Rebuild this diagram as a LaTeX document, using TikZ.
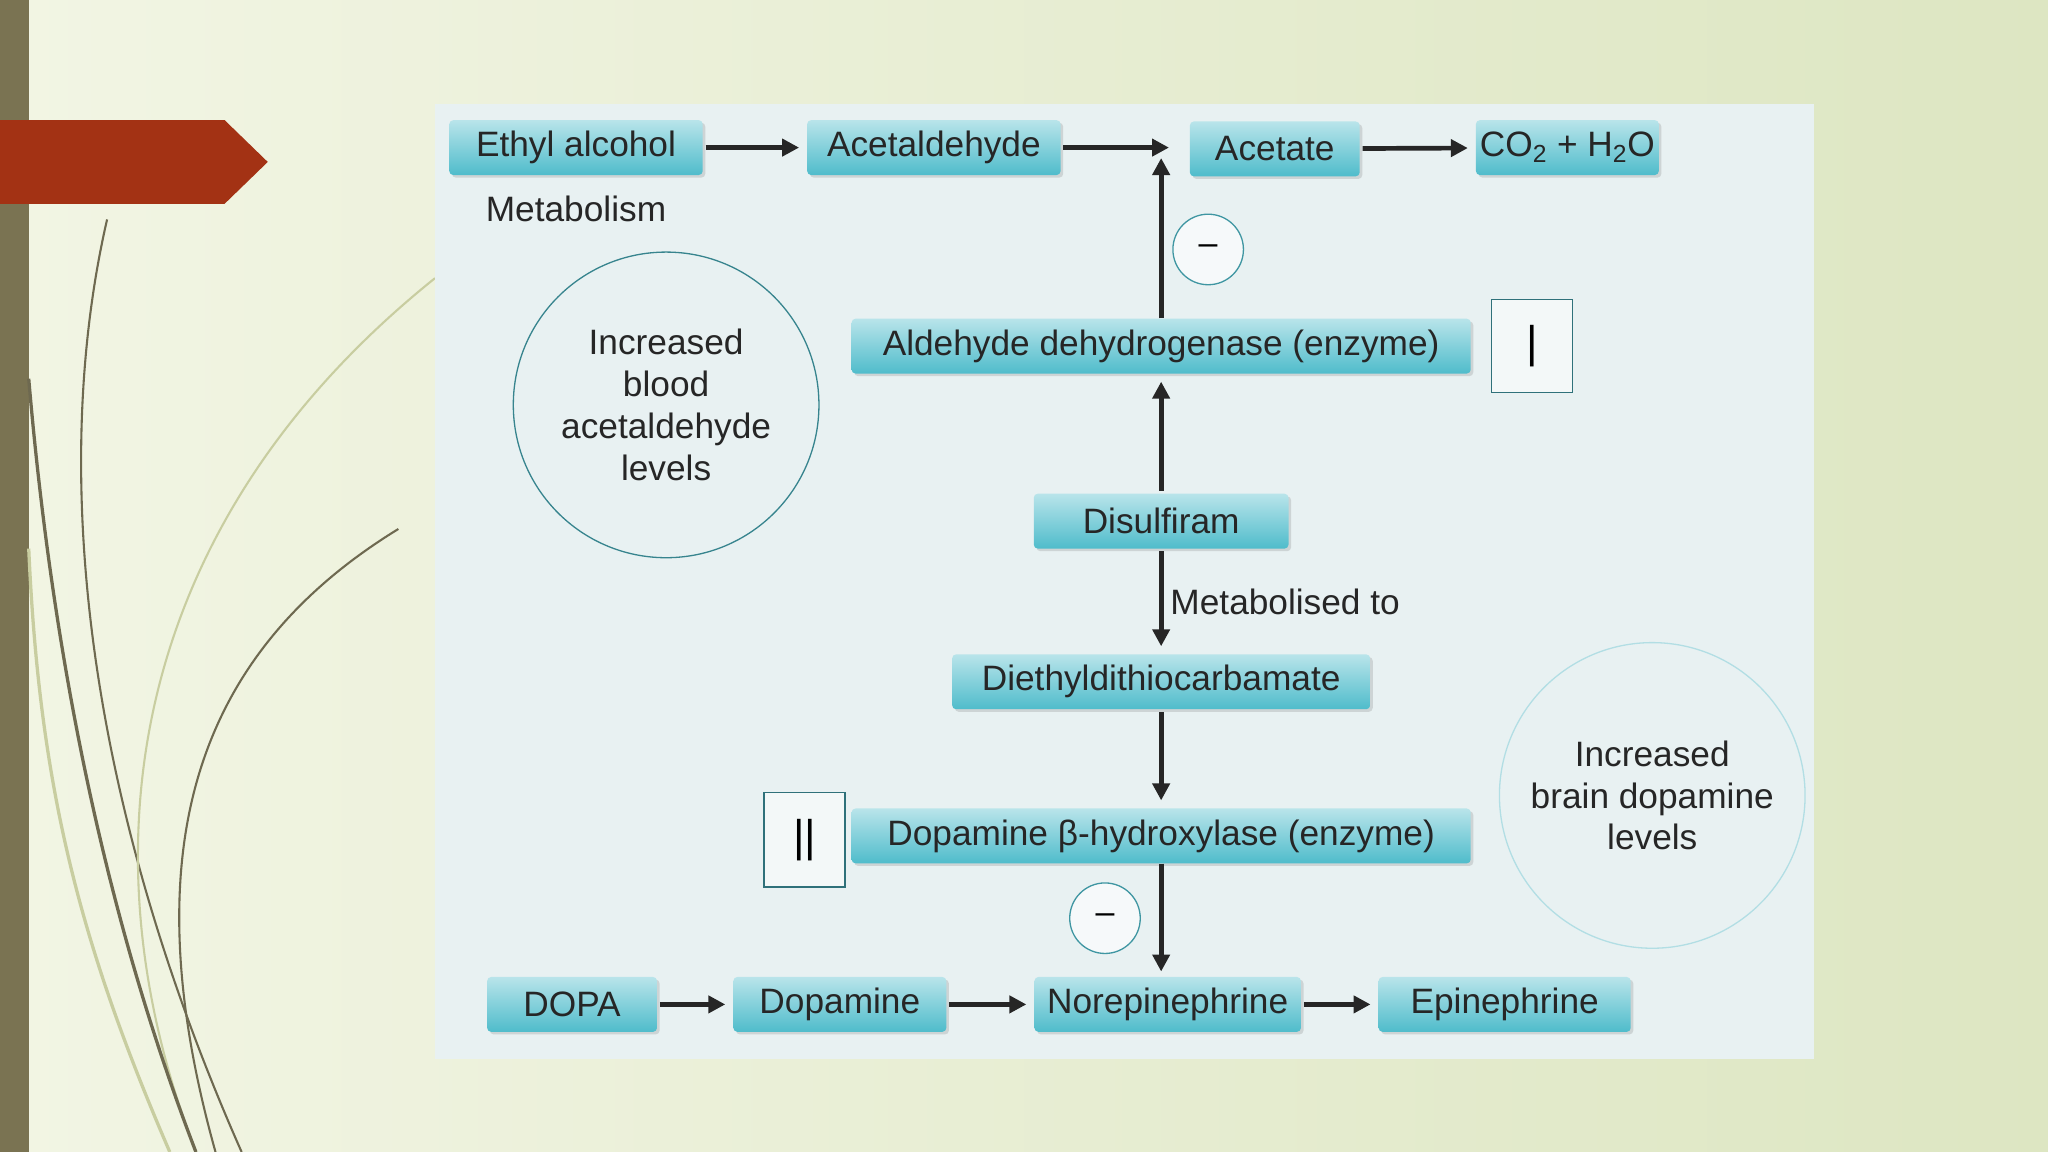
\documentclass[tikz,border=0pt]{standalone}
\usepackage{fontspec}
\setmainfont{Liberation Sans}
\usetikzlibrary{arrows.meta,shadows}
\begin{document}
\begin{tikzpicture}[x=1pt,y=-1pt,
 box/.style={draw=none,rounded corners=3pt,top color=#1!40!white,bottom color=#1,middle color=#1!70!white,minimum height=42pt,inner sep=0pt,font=\fontsize{27}{30}\selectfont,text=black!85,drop shadow={shadow xshift=2pt,shadow yshift=-2pt,opacity=0.25}},
 box/.default={c1},
 arr/.style={line width=3.6pt,draw=black!85,-{Triangle[length=13pt,width=13pt]},shorten >=6pt,shorten <=2pt},
 txt/.style={font=\fontsize{27}{32}\selectfont,text=black!85,align=center},
 minus/.style={circle,draw=c1!80!black,line width=1pt,minimum size=54pt,fill=white!60!c2,font=\fontsize{26}{28}\selectfont},
 big/.style={circle,draw=c1!70!black,line width=1pt,minimum size=234pt},
 inhib/.style={draw=c1!60!black,fill=white!50!c2,line width=1pt,inner sep=0pt}
]
\definecolor{c1}{HTML}{4FBCCB}
\definecolor{c2}{HTML}{E8F1F2}
\definecolor{bg1}{HTML}{F2F5E4}
\definecolor{bg2}{HTML}{DDE6C2}
\definecolor{olv}{HTML}{7A7352}
\definecolor{crv}{HTML}{6E6950}
\definecolor{crl}{HTML}{C8CDA0}
\definecolor{rd}{HTML}{A33214}
\useasboundingbox (0,0) rectangle (1568,882);
\shade[left color=bg1,right color=bg2] (0,0) rectangle (1568,882);
\fill[olv] (0,0) rectangle (22,882);
% decorative curves
\begin{scope}[line width=1.6pt]
\draw[crv] (185,882) .. controls (60,600) and (40,350) .. (82,168);
\draw[crv] (165,882) .. controls (100,650) and (150,500) .. (305,405);
\draw[crl] (150,882) .. controls (60,650) and (100,400) .. (333,213);
\draw[crv,line width=2.5pt] (150,882) .. controls (80,700) and (40,500) .. (22,290);
\draw[crl,line width=2.5pt] (130,882) .. controls (60,720) and (30,600) .. (22,420);
\end{scope}
\fill[rd] (0,92) -- (172,92) -- (205,124) -- (172,156) -- (0,156) -- cycle;
% panel
\fill[c2] (333,80) rectangle (1389,811);
% nodes
\node[box,minimum width=194pt] (eth) at (441,113) {Ethyl alcohol};
\node[box,minimum width=194pt] (acd) at (715,113) {Acetaldehyde};
\node[box,minimum width=130pt] (act) at (976,114) {Acetate};
\node[box,minimum width=140pt] (co2) at (1200,113) {CO\textsubscript{2} + H\textsubscript{2}O};
\node[txt] (met) at (441,160) {Metabolism};
\node[box,minimum width=474pt] (ald) at (889,265) {Aldehyde dehydrogenase (enzyme)};
\node[box,minimum width=195pt] (dis) at (889,399) {Disulfiram};
\node[box,minimum width=320pt] (die) at (889,522) {Diethyldithiocarbamate};
\node[box,minimum width=474pt] (dbh) at (889,640) {Dopamine β-hydroxylase (enzyme)};
\node[box,minimum width=130pt] (dopa) at (438,769) {DOPA};
\node[box,minimum width=163pt] (dop) at (643,769) {Dopamine};
\node[box,minimum width=204pt] (nor) at (894,769) {Norepinephrine};
\node[box,minimum width=193pt] (epi) at (1152,769) {Epinephrine};
\coordinate (top) at (895,113);
\coordinate (vtop) at (889,113);
\node[minus] (m1) at (925,191) {--};
\node[minus] (m2) at (846,703) {--};
\node[big,txt] (c1n) at (510,310) {Increased\\blood\\acetaldehyde\\levels};
\node[big,txt,draw=c1!35!c2] (c2n) at (1265,609) {Increased\\brain dopamine\\levels};
\node[inhib,minimum width=62pt,minimum height=71pt,font=\fontsize{34}{34}\selectfont] (i1) at (1173,265) {|};
\node[inhib,minimum width=62pt,minimum height=72pt,font=\fontsize{34}{34}\selectfont] (i2) at (616,643) {||};
% arrows
\draw[arr] (eth) -- (acd);
\draw[arr,shorten >=0pt] (acd) -- (top);
\draw[arr] (act) -- (co2);
\draw[arr,shorten >=0pt,shorten <=0pt] (ald.north) -- ([yshift=-8pt]vtop);
\draw[arr] (dis) -- (ald);
\draw[arr] (dis) -- node[txt,right,xshift=2pt] {Metabolised to} (die);
\draw[arr] (die) -- (dbh);
\draw[arr,shorten >=4pt,shorten <=0pt] (dbh.south) -- (nor.north -| dbh.south);
\draw[arr] (dopa) -- (dop);
\draw[arr] (dop) -- (nor);
\draw[arr] (nor) -- (epi);
\end{tikzpicture}
\end{document}
